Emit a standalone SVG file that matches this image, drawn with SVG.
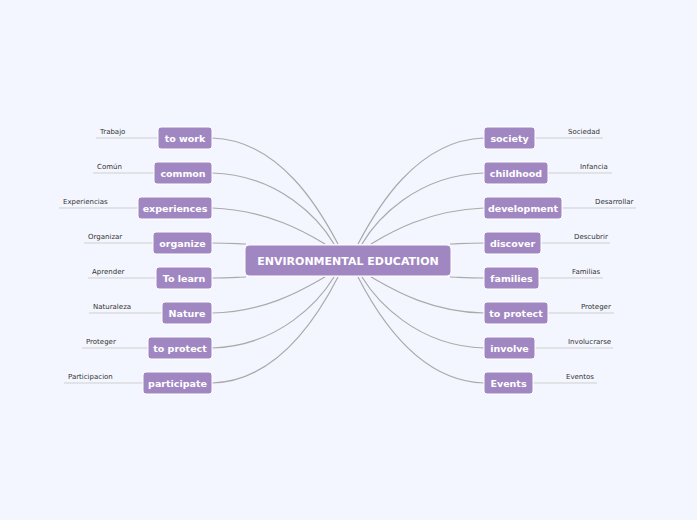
<svg xmlns="http://www.w3.org/2000/svg" width="697" height="520" viewBox="0 0 697 520">
<style>
.n{fill:#a187c2;stroke:#fff;stroke-width:1}
.t{font-family:"DejaVu Sans",sans-serif;font-weight:bold;font-size:9.5px;fill:#fff;text-anchor:middle}
.s{font-family:"DejaVu Sans",sans-serif;font-size:7px;fill:#333}
.c{fill:none;stroke:#aaaaaa;stroke-width:1.2}
.u{stroke:#cfcfcf;stroke-width:1}
</style>
<rect width="697" height="520" fill="#f3f6fe"/>
<g id="connectors">
<path class="c" d="M212,138 C280,140 320,210 338,244"/>
<path class="c" d="M212,173 C280,175 320,220 334,244"/>
<path class="c" d="M212,208 C270,210 310,235 325,244"/>
<path class="c" d="M212,243 C230,243 240,244 246,244"/>
<path class="c" d="M212,278 C230,278 240,277 246,277"/>
<path class="c" d="M212,313 C270,312 310,285 325,277"/>
<path class="c" d="M212,348 C280,346 320,300 334,277"/>
<path class="c" d="M212,383 C280,381 320,312 338,277"/>
<path class="c" d="M484,138 C416,140 376,210 358,244"/>
<path class="c" d="M484,173 C416,175 376,220 362,244"/>
<path class="c" d="M484,208 C426,210 386,235 371,244"/>
<path class="c" d="M484,243 C466,243 456,244 450,244"/>
<path class="c" d="M484,278 C466,278 456,277 450,277"/>
<path class="c" d="M484,313 C426,312 386,285 371,277"/>
<path class="c" d="M484,348 C416,346 376,300 362,277"/>
<path class="c" d="M484,383 C416,381 376,312 358,277"/>
<line class="u" x1="96" y1="138" x2="158" y2="138"/>
<line class="u" x1="93" y1="173" x2="154" y2="173"/>
<line class="u" x1="59" y1="208" x2="138" y2="208"/>
<line class="u" x1="84" y1="243" x2="153" y2="243"/>
<line class="u" x1="88" y1="278" x2="156" y2="278"/>
<line class="u" x1="89" y1="313" x2="162" y2="313"/>
<line class="u" x1="82" y1="348" x2="148" y2="348"/>
<line class="u" x1="64" y1="383" x2="143" y2="383"/>
<line class="u" x1="535" y1="138" x2="603" y2="138"/>
<line class="u" x1="548" y1="173" x2="612" y2="173"/>
<line class="u" x1="562" y1="208" x2="636" y2="208"/>
<line class="u" x1="541" y1="243" x2="610" y2="243"/>
<line class="u" x1="539" y1="278" x2="603" y2="278"/>
<line class="u" x1="548" y1="313" x2="614" y2="313"/>
<line class="u" x1="535" y1="348" x2="613" y2="348"/>
<line class="u" x1="533" y1="383" x2="597" y2="383"/>
</g>
<g id="center"><rect class="n" x="245" y="245" width="206" height="31" rx="4"/><text class="t" style="font-size:11px" x="348" y="265">ENVIRONMENTAL EDUCATION</text></g>
<g id="l1"><rect class="n" x="158" y="127" width="54" height="22" rx="3"/><text class="t" x="185" y="141.5">to work</text><text class="s" x="100" y="134">Trabajo</text></g>
<g id="l2"><rect class="n" x="154" y="162" width="58" height="22" rx="3"/><text class="t" x="183" y="176.5">common</text><text class="s" x="97" y="169">Común</text></g>
<g id="l3"><rect class="n" x="138" y="197" width="74" height="22" rx="3"/><text class="t" x="175" y="211.5">experiences</text><text class="s" x="63" y="204">Experiencias</text></g>
<g id="l4"><rect class="n" x="153" y="232" width="59" height="22" rx="3"/><text class="t" x="182.5" y="246.5">organize</text><text class="s" x="88" y="239">Organizar</text></g>
<g id="l5"><rect class="n" x="156" y="267" width="56" height="22" rx="3"/><text class="t" x="184" y="281.5">To learn</text><text class="s" x="92" y="274">Aprender</text></g>
<g id="l6"><rect class="n" x="162" y="302" width="50" height="22" rx="3"/><text class="t" x="187" y="316.5">Nature</text><text class="s" x="93" y="309">Naturaleza</text></g>
<g id="l7"><rect class="n" x="148" y="337" width="64" height="22" rx="3"/><text class="t" x="180" y="351.5">to protect</text><text class="s" x="86" y="344">Proteger</text></g>
<g id="l8"><rect class="n" x="143" y="372" width="69" height="22" rx="3"/><text class="t" x="177.5" y="386.5">participate</text><text class="s" x="68" y="379">Participacion</text></g>
<g id="r1"><rect class="n" x="484" y="127" width="51" height="22" rx="3"/><text class="t" x="509.5" y="141.5">society</text><text class="s" x="568" y="134">Sociedad</text></g>
<g id="r2"><rect class="n" x="484" y="162" width="64" height="22" rx="3"/><text class="t" x="516" y="176.5">childhood</text><text class="s" x="580" y="169">Infancia</text></g>
<g id="r3"><rect class="n" x="484" y="197" width="78" height="22" rx="3"/><text class="t" x="523" y="211.5">development</text><text class="s" x="595" y="204">Desarrollar</text></g>
<g id="r4"><rect class="n" x="484" y="232" width="57" height="22" rx="3"/><text class="t" x="512.5" y="246.5">discover</text><text class="s" x="574" y="239">Descubrir</text></g>
<g id="r5"><rect class="n" x="484" y="267" width="55" height="22" rx="3"/><text class="t" x="511.5" y="281.5">families</text><text class="s" x="572" y="274">Familias</text></g>
<g id="r6"><rect class="n" x="484" y="302" width="64" height="22" rx="3"/><text class="t" x="516" y="316.5">to protect</text><text class="s" x="581" y="309">Proteger</text></g>
<g id="r7"><rect class="n" x="484" y="337" width="51" height="22" rx="3"/><text class="t" x="509.5" y="351.5">involve</text><text class="s" x="568" y="344">Involucrarse</text></g>
<g id="r8"><rect class="n" x="484" y="372" width="49" height="22" rx="3"/><text class="t" x="508.5" y="386.5">Events</text><text class="s" x="566" y="379">Eventos</text></g>
</svg>
